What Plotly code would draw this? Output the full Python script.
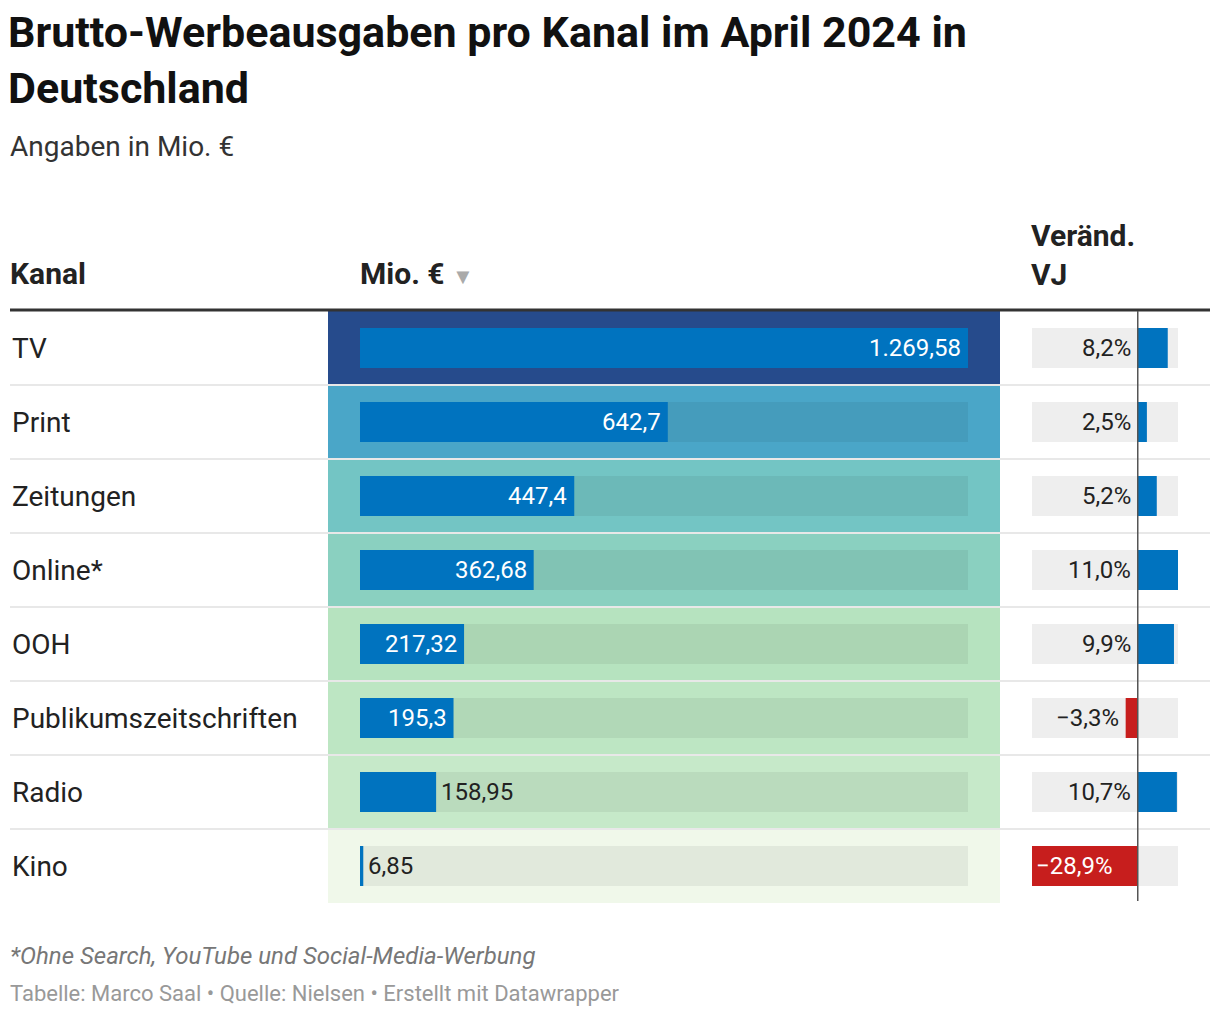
import plotly.graph_objects as go

kanal = ["TV", "Print", "Zeitungen", "Online*", "OOH", "Publikumszeitschriften", "Radio", "Kino"]
mio = [1269.58, 642.7, 447.4, 362.68, 217.32, 195.3, 158.95, 6.85]
mio_lbl = ["1.269,58", "642,7", "447,4", "362,68", "217,32", "195,3", "158,95", "6,85"]
chg = [8.2, 2.5, 5.2, 11.0, 9.9, -3.3, 10.7, -28.9]
chg_lbl = ["8,2%", "2,5%", "5,2%", "11,0%", "9,9%", "−3,3%", "10,7%", "−28,9%"]
row_bg = ["#264b8c", "#4aa6c8", "#73c5c4", "#8ad0c0", "#b6e3bf", "#bde6c3", "#c6e9c9", "#f0f8ea"]

W, H = 1220, 1016
OFF = 8
px = lambda v: (v - OFF) / W
py = lambda v: 1 - (v - OFF) / H
idx = list(range(len(kanal)))
FONT = "Roboto"

fig = go.Figure()
mx = max(mio)
fig.add_trace(go.Bar(y=idx, x=[mx]*len(idx), orientation="h", marker=dict(color="rgba(0,0,0,0.06)", line_width=0),
                     width=0.54, xaxis="x", yaxis="y", hoverinfo="skip"))
fig.add_trace(go.Bar(y=idx, x=mio, orientation="h", marker=dict(color="#0073bf", line_width=0),
                     width=0.54, xaxis="x", yaxis="y"))
cmin, cmax = min(chg), max(chg)
fig.add_trace(go.Bar(y=idx, base=[cmin]*len(idx), x=[cmax-cmin]*len(idx), orientation="h",
                     marker=dict(color="#eeeeee", line_width=0), width=0.54, xaxis="x2", yaxis="y", hoverinfo="skip"))
fig.add_trace(go.Bar(y=idx, x=chg, orientation="h", marker=dict(color=["#0073bf" if c >= 0 else "#c71e1d" for c in chg], line_width=0),
                     width=0.54, xaxis="x2", yaxis="y"))

shapes = []
for i, c in enumerate(row_bg):
    shapes.append(dict(type="rect", xref="paper", yref="y", x0=px(328), x1=px(1000), y0=i-0.5, y1=i+0.5,
                       fillcolor=c, line_width=0, layer="below"))
    if i > 0:
        shapes.append(dict(type="line", xref="paper", yref="y", x0=px(10), x1=px(1210), y0=i-0.5, y1=i-0.5,
                           line=dict(color="#e8e8e8", width=2), layer="above"))
shapes.append(dict(type="line", xref="paper", yref="paper", x0=px(10), x1=px(1210), y0=py(310), y1=py(310),
                   line=dict(color="#333333", width=3)))
shapes.append(dict(type="line", xref="x2", yref="paper", x0=0, x1=0, y0=py(311), y1=py(901),
                   line=dict(color="#555555", width=1.5)))

ann = []
for i in idx:
    ann.append(dict(x=px(10), y=i, xref="paper", yref="y", text=kanal[i], showarrow=False, xanchor="left",
                    font=dict(family=FONT, size=28, color="#222")))
    inside = mio[i] > 180
    ann.append(dict(x=mio[i], y=i, xref="x", yref="y", text=mio_lbl[i], showarrow=False,
                    xanchor="right" if inside else "left", xshift=-5 if inside else 3,
                    font=dict(family=FONT, size=24, color="white" if inside else "#222")))
    if chg[i] < -10:
        ann.append(dict(x=cmin, y=i, xref="x2", yref="y", text=chg_lbl[i], showarrow=False, xanchor="left", xshift=2,
                        font=dict(family=FONT, size=24, color="white")))
    else:
        ann.append(dict(x=min(0, chg[i]), y=i, xref="x2", yref="y", text=chg_lbl[i], showarrow=False, xanchor="right", xshift=-5,
                        font=dict(family=FONT, size=24, color="#222")))

def t(x, y, s, size, color="#222", anchor="left", yanchor="middle"):
    ann.append(dict(x=px(x), y=py(y), xref="paper", yref="paper", text=s, showarrow=False, xanchor=anchor,
                    yanchor=yanchor, align="left", font=dict(family=FONT, size=size, color=color)))

t(6, 60, "<b>Brutto-Werbeausgaben pro Kanal im April 2024 in<br>Deutschland</b>", 43, "#111")
t(8, 147, "Angaben in Mio. €", 28, "#333")
t(8, 273, "<b>Kanal</b>", 30)
t(358, 273, "<b>Mio. €</b> <span style='color:#aaa;font-size:22px'>▼</span>", 30)
t(1029, 255, "<b>Veränd.<br>VJ</b>", 30)
t(8, 956, "<i>*Ohne Search, YouTube und Social-Media-Werbung</i>", 24, "#777")
t(8, 993, "Tabelle: Marco Saal • Quelle: Nielsen • Erstellt mit Datawrapper", 22, "#999")

fig.update_layout(
    width=W, height=H, margin=dict(l=0, r=0, t=0, b=0), paper_bgcolor="white", plot_bgcolor="rgba(0,0,0,0)",
    barmode="overlay", showlegend=False, shapes=shapes, annotations=ann,
    xaxis=dict(domain=[px(360), px(968)], range=[0, mx], visible=False, fixedrange=True),
    xaxis2=dict(domain=[px(1032), px(1178)], range=[cmin, cmax], visible=False, anchor="y"),
    yaxis=dict(domain=[py(903), py(311)], range=[7.5, -0.5], visible=False),
)
fig.write_html("out.html")
